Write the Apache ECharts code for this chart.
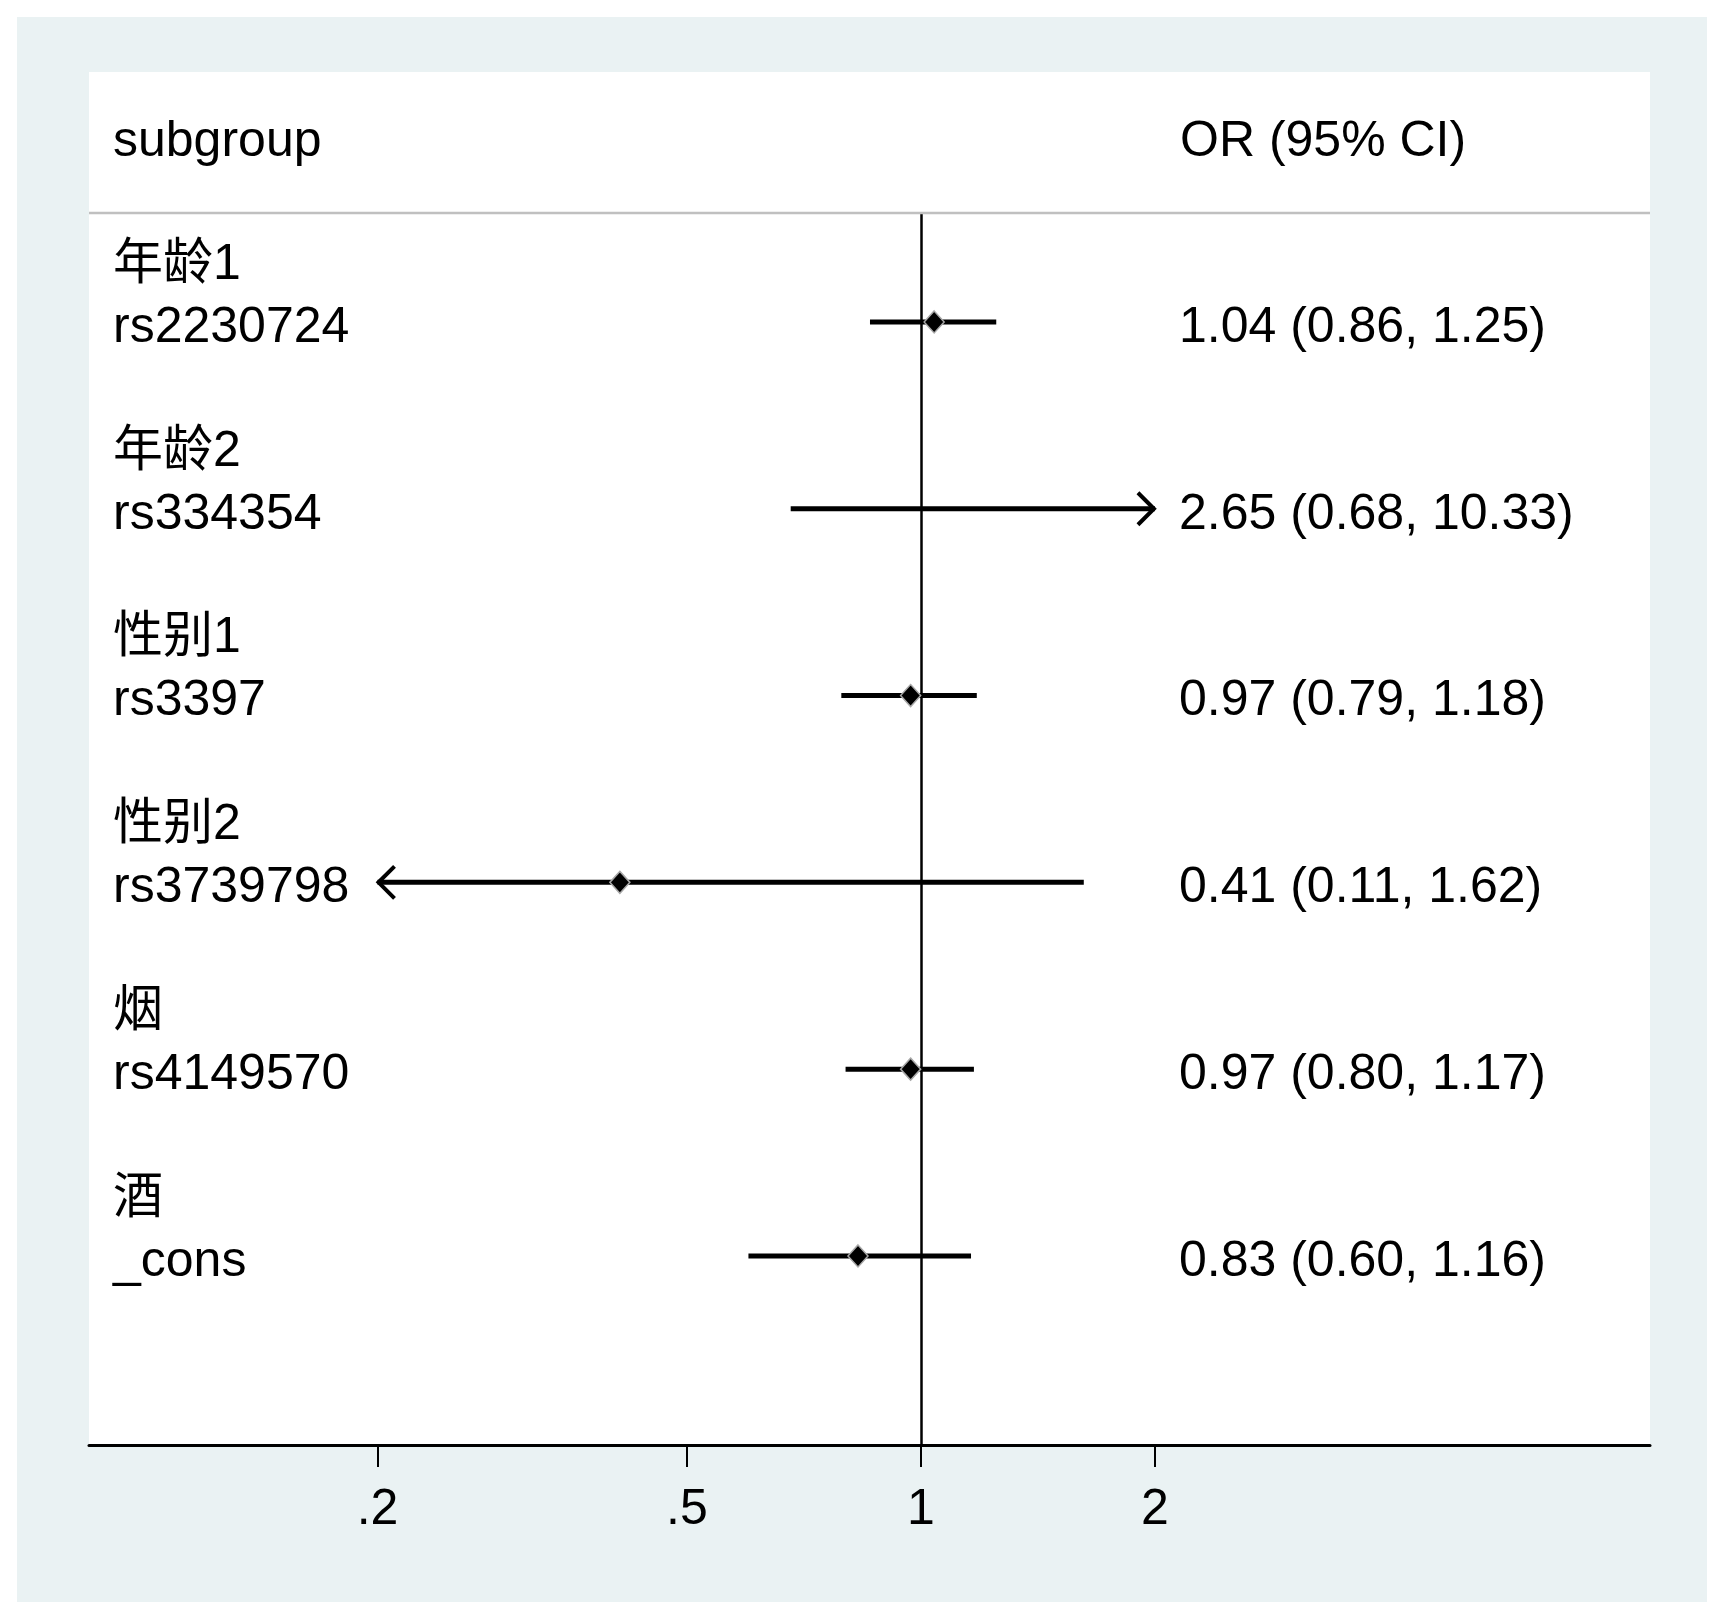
<!DOCTYPE html>
<html>
<head>
<meta charset="utf-8">
<script src="https://cdn.jsdelivr.net/npm/echarts@6/dist/echarts.min.js"></script>
<style>
html,body{margin:0;padding:0;background:#fff;}
#chart{width:1723px;height:1618px;}
</style>
</head>
<body>
<div id="chart"></div>
<script>
// ---- data ----
const subgroups = ['年龄1', '年龄2', '性别1', '性别2', '烟', '酒'];
const variables = ['rs2230724', 'rs334354', 'rs3397', 'rs3739798', 'rs4149570', '_cons'];
const orValues = [1.04, 2.65, 0.97, 0.41, 0.97, 0.83];
const ciLower = [0.86, 0.68, 0.79, 0.11, 0.80, 0.60];
const ciUpper = [1.25, 10.33, 1.18, 1.62, 1.17, 1.16];
const tickValues = [0.2, 0.5, 1, 2];
const tickLabels = ['.2', '.5', '1', '2'];
const headerLeft = 'subgroup';
const headerRight = 'OR (95% CI)';
const refValue = 1;
// axis extent (OR scale), covering the whole plot region incl. text columns
const axisMinOR = 0.0851;
const axisMaxOR = 8.666;

// ---- derived ----
const FONT = '"Liberation Sans", Arial, "Noto Sans CJK SC", sans-serif';
const TICKFONT = '"Liberation Sans Narrow", "Liberation Sans", Arial, sans-serif';
const rows = variables.map((_, i) => i + 1);
const lnTicks = tickValues.map(Math.log);
const lnMin = lnTicks[0];
const lnMax = lnTicks[lnTicks.length - 1];
const ciText = orValues.map((v, i) => `${v.toFixed(2)} (${ciLower[i].toFixed(2)}, ${ciUpper[i].toFixed(2)})`);
const ciData = rows.map((r, i) => [Math.log(ciLower[i]), Math.log(ciUpper[i]), r, i]);
const orData = rows.map((r, i) => [Math.log(orValues[i]), r])
  .filter(d => d[0] >= lnMin && d[0] <= lnMax);
const labelData = rows.map((r, i) => [0, r, i]);

const yMin = -0.338, yMax = 7.012, yRefTop = 0.4165;

const chart = echarts.init(document.getElementById('chart'), null, {renderer: 'canvas'});

const option = {
  backgroundColor: '#ffffff',
  animation: false,
  grid: {
    left: 89, top: 72, width: 1561, height: 1373,
    show: true, backgroundColor: '#ffffff', borderWidth: 0
  },
  xAxis: {
    type: 'value',
    min: Math.log(axisMinOR),
    max: Math.log(axisMaxOR),
    position: 'bottom',
    axisLine: {show: true, onZero: false, lineStyle: {color: '#000', width: 3}},
    axisTick: {show: true, customValues: lnTicks, length: 22, lineStyle: {color: '#000', width: 2}},
    axisLabel: {
      customValues: lnTicks,
      formatter: (v) => {
        const k = lnTicks.findIndex(t => Math.abs(t - v) < 1e-6);
        return k >= 0 ? tickLabels[k] : '';
      },
      fontSize: 50, color: '#000', margin: 40, fontFamily: TICKFONT
    },
    splitLine: {show: false}
  },
  yAxis: {
    type: 'value', inverse: true, min: yMin, max: yMax, show: false
  },
  graphic: [
    {type: 'rect', z: -100, shape: {x: 17, y: 17, width: 1690, height: 1585}, style: {fill: '#EAF2F3'}},
    {type: 'line', z: 100, shape: {x1: 89, y1: 213, x2: 1650, y2: 213}, style: {stroke: '#C0C0C0', lineWidth: 2.5}},
    {type: 'text', z: 100, x: 113, y: 142, style: {text: headerLeft, fontSize: 50, fontFamily: FONT, fill: '#000', verticalAlign: 'middle', align: 'left'}},
    {type: 'text', z: 100, x: 1180, y: 142, style: {text: headerRight, fontSize: 50, fontFamily: FONT, fill: '#000', verticalAlign: 'middle', align: 'left'}}
  ],
  series: [
    {
      type: 'custom',
      name: 'ci',
      data: ciData,
      encode: {x: [0, 1], y: 2},
      clip: false,
      z: 3,
      renderItem: (params, api) => {
        const lo = api.value(0), hi = api.value(1), r = api.value(2);
        const a = Math.max(lo, lnMin), b = Math.min(hi, lnMax);
        const p1 = api.coord([a, r]), p2 = api.coord([b, r]);
        const children = [{
          type: 'line',
          shape: {x1: p1[0], y1: p1[1], x2: p2[0], y2: p2[1]},
          style: {stroke: '#000', lineWidth: 5, lineCap: 'butt'}
        }];
        const ah = 17, aw = 16;
        if (lo < lnMin) {
          children.push({type: 'polyline',
            shape: {points: [[p1[0] + ah, p1[1] - aw], [p1[0] + 1, p1[1]], [p1[0] + ah, p1[1] + aw]]},
            style: {stroke: '#000', lineWidth: 4, fill: null}});
        }
        if (hi > lnMax) {
          children.push({type: 'polyline',
            shape: {points: [[p2[0] - ah, p2[1] - aw], [p2[0] - 1, p2[1]], [p2[0] - ah, p2[1] + aw]]},
            style: {stroke: '#000', lineWidth: 4, fill: null}});
        }
        return {type: 'group', children};
      }
    },
    {
      type: 'scatter',
      name: 'or',
      data: orData,
      z: 5,
      symbol: 'diamond',
      symbolSize: [20, 22],
      itemStyle: {color: '#000', borderColor: '#a8a8a8', borderWidth: 1.5, opacity: 1},
      markLine: {
        silent: true,
        symbol: ['none', 'none'],
        label: {show: false},
        lineStyle: {color: '#000', width: 2.5, type: 'solid'},
        data: [[{coord: [Math.log(refValue), yRefTop]}, {coord: [Math.log(refValue), yMax]}]]
      }
    },
    {
      type: 'custom',
      name: 'labels',
      data: labelData,
      encode: {x: 0, y: 1},
      clip: false,
      z: 10,
      renderItem: (params, api) => {
        const i = api.value(2);
        const y = api.coord([0, api.value(1)])[1];
        const cs = params.coordSys;
        const st = (t) => ({text: t, fontSize: 50, fontFamily: FONT, fill: '#000', verticalAlign: 'middle', align: 'left'});
        return {type: 'group', children: [
          {type: 'text', x: cs.x + 24, y: y - 57, style: st(subgroups[i])},
          {type: 'text', x: cs.x + 24, y: y + 6, style: st(variables[i])},
          {type: 'text', x: cs.x + 1090, y: y + 6, style: st(ciText[i])}
        ]};
      }
    }
  ]
};
chart.setOption(option);
</script>
</body>
</html>
